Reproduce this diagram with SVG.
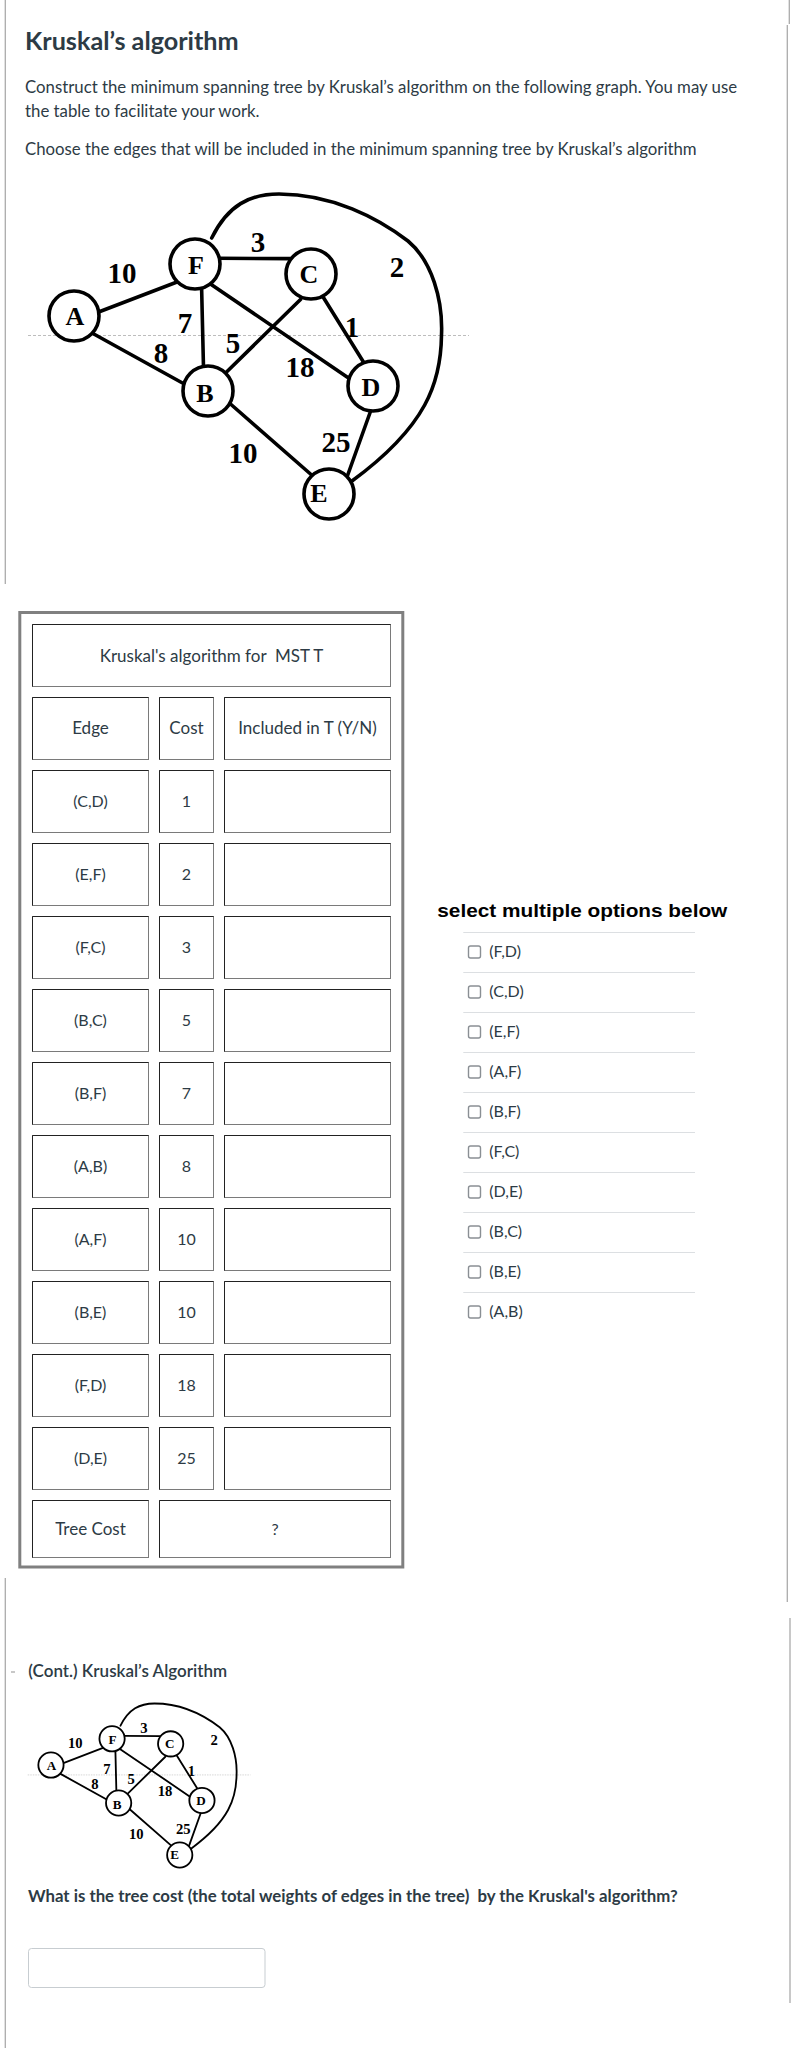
<svg xmlns="http://www.w3.org/2000/svg" xmlns:xlink="http://www.w3.org/1999/xlink" width="796" height="2048" viewBox="0 0 796 2048">
<style>
.t{font-family:Lato,"Open Sans","Liberation Sans",sans-serif;fill:#2d3b45;font-size:16px}
.p{font-size:17px}
.q{font-size:16.8px}
.c{text-anchor:middle}
.b{font-weight:bold}
.edge{stroke:#000;stroke-width:3.6;fill:none;stroke-linecap:round}
.node circle{fill:#fff;stroke:#000;stroke-width:3.6}
.nl{font-family:"Liberation Serif","Times New Roman",serif;font-weight:bold;font-size:26px;text-anchor:middle;fill:#000}
.wl{font-family:"Liberation Serif","Times New Roman",serif;font-weight:bold;font-size:29px;text-anchor:middle;fill:#000}
.cbr{fill:#fff;stroke:#7a7a7a;stroke-width:1}
.ctl{fill:none;stroke:#222;stroke-width:1}
.sep{stroke:#dcdfe2;stroke-width:1.2}
.chk{fill:#fff;stroke:#8a8f94;stroke-width:1.4}
.vb{stroke:#ababab;stroke-width:1.3}
</style>
<defs>
<g id="cE"><rect width="116" height="62" class="cbr"/><path d="M0,62V0H116" class="ctl"/></g>
<g id="cC"><rect width="54" height="62" class="cbr"/><path d="M0,62V0H54" class="ctl"/></g>
<g id="cI"><rect width="166" height="62" class="cbr"/><path d="M0,62V0H166" class="ctl"/></g>
</defs>
<rect width="796" height="2048" fill="#fff"/>
<g id="page-borders">
<line class="vb" x1="5.3" y1="0" x2="5.3" y2="584"/>
<line class="vb" x1="5.3" y1="1578" x2="5.3" y2="2048"/>
<line class="vb" x1="789.3" y1="0" x2="789.3" y2="24"/>
<line class="vb" x1="787.3" y1="25" x2="787.3" y2="1602"/>
<line class="vb" x1="790" y1="1618" x2="790" y2="2003"/>
<line class="vb" x1="11" y1="1672" x2="15" y2="1672"/>
</g>
<g id="header">
<text class="t b" x="25" y="50" style="font-size:25.2px">Kruskal’s algorithm</text>
<text class="t q" x="25" y="93">Construct the minimum spanning tree by Kruskal’s algorithm on the following graph. You may use</text>
<text class="t q" x="25" y="117">the table to facilitate your work.</text>
<text class="t q" x="25" y="155">Choose the edges that will be included in the minimum spanning tree by Kruskal’s algorithm</text>
</g>
<g id="fig1">
<line x1="28" y1="335.5" x2="469" y2="335.5" stroke="#bdbdbd" stroke-width="1.2" stroke-dasharray="3 2"/>
<g id="connectors">
<line class="edge" x1="96" y1="313" x2="177" y2="282"/>
<line class="edge" x1="92" y1="333" x2="187" y2="385.5"/>
<line class="edge" x1="201.5" y1="283" x2="203.5" y2="368"/>
<line class="edge" x1="218" y1="258.3" x2="292" y2="258.6"/>
<line class="edge" x1="209" y1="283" x2="350" y2="379"/>
<line class="edge" x1="300.5" y1="299.5" x2="224.5" y2="374"/>
<line class="edge" x1="320" y1="292" x2="365" y2="364.5"/>
<line class="edge" x1="230.5" y1="404" x2="314.5" y2="477.5"/>
<line class="edge" x1="371" y1="410" x2="347" y2="477"/>
<path class="edge" d="M211.7,238 C228,205 250,194 279,194 C332,194 378,218 408,241 C432,261 443,300 441.5,335 C441,382 427,426 352,481"/>
<text class="wl" x="122" y="283">10</text>
<text class="wl" x="258" y="252">3</text>
<text class="wl" x="397" y="277">2</text>
<text class="wl" x="185" y="333">7</text>
<text class="wl" x="352" y="337">1</text>
<text class="wl" x="161" y="363">8</text>
<text class="wl" x="233" y="353">5</text>
<text class="wl" x="300" y="377">18</text>
<text class="wl" x="336" y="452">25</text>
<text class="wl" x="243" y="463">10</text>
</g>
<g id="node-A" class="node"><circle cx="74" cy="316" r="25"/><text class="nl" x="75" y="325">A</text></g>
<g id="node-F" class="node"><circle cx="195" cy="264" r="25"/><text class="nl" x="196" y="274">F</text></g>
<g id="node-C" class="node"><circle cx="311" cy="274" r="25"/><text class="nl" x="309" y="283">C</text></g>
<g id="node-B" class="node"><circle cx="208" cy="391" r="25"/><text class="nl" x="205" y="402">B</text></g>
<g id="node-D" class="node"><circle cx="373" cy="386" r="25"/><text class="nl" x="371" y="396">D</text></g>
<g id="node-E" class="node"><circle cx="329" cy="494" r="25"/><text class="nl" x="319" y="502">E</text></g>
</g>
<g id="table">
<rect x="19.8" y="612.5" width="383" height="954.5" fill="none" stroke="#808080" stroke-width="3"/>
<rect x="32.5" y="624.5" width="358" height="62" class="cbr"/><path d="M32.5,686.5V624.5H390.5" class="ctl"/>
<text class="t c p" x="211.5" y="661.5" xml:space="preserve">Kruskal's algorithm for  MST T</text>
<use href="#cE" x="32.5" y="697.5"/><use href="#cC" x="159.5" y="697.5"/><use href="#cI" x="224.5" y="697.5"/>
<text class="t c p" x="90.5" y="734">Edge</text><text class="t c p" x="186.5" y="734">Cost</text><text class="t c p" x="307.5" y="734">Included in T (Y/N)</text>
<use href="#cE" x="32.5" y="770.5"/><use href="#cC" x="159.5" y="770.5"/><use href="#cI" x="224.5" y="770.5"/>
<text class="t c" x="90.5" y="807">(C,D)</text><text class="t c" x="186.5" y="807">1</text>
<use href="#cE" x="32.5" y="843.5"/><use href="#cC" x="159.5" y="843.5"/><use href="#cI" x="224.5" y="843.5"/>
<text class="t c" x="90.5" y="880">(E,F)</text><text class="t c" x="186.5" y="880">2</text>
<use href="#cE" x="32.5" y="916.5"/><use href="#cC" x="159.5" y="916.5"/><use href="#cI" x="224.5" y="916.5"/>
<text class="t c" x="90.5" y="953">(F,C)</text><text class="t c" x="186.5" y="953">3</text>
<use href="#cE" x="32.5" y="989.5"/><use href="#cC" x="159.5" y="989.5"/><use href="#cI" x="224.5" y="989.5"/>
<text class="t c" x="90.5" y="1026">(B,C)</text><text class="t c" x="186.5" y="1026">5</text>
<use href="#cE" x="32.5" y="1062.5"/><use href="#cC" x="159.5" y="1062.5"/><use href="#cI" x="224.5" y="1062.5"/>
<text class="t c" x="90.5" y="1099">(B,F)</text><text class="t c" x="186.5" y="1099">7</text>
<use href="#cE" x="32.5" y="1135.5"/><use href="#cC" x="159.5" y="1135.5"/><use href="#cI" x="224.5" y="1135.5"/>
<text class="t c" x="90.5" y="1172">(A,B)</text><text class="t c" x="186.5" y="1172">8</text>
<use href="#cE" x="32.5" y="1208.5"/><use href="#cC" x="159.5" y="1208.5"/><use href="#cI" x="224.5" y="1208.5"/>
<text class="t c" x="90.5" y="1245">(A,F)</text><text class="t c" x="186.5" y="1245">10</text>
<use href="#cE" x="32.5" y="1281.5"/><use href="#cC" x="159.5" y="1281.5"/><use href="#cI" x="224.5" y="1281.5"/>
<text class="t c" x="90.5" y="1318">(B,E)</text><text class="t c" x="186.5" y="1318">10</text>
<use href="#cE" x="32.5" y="1354.5"/><use href="#cC" x="159.5" y="1354.5"/><use href="#cI" x="224.5" y="1354.5"/>
<text class="t c" x="90.5" y="1391">(F,D)</text><text class="t c" x="186.5" y="1391">18</text>
<use href="#cE" x="32.5" y="1427.5"/><use href="#cC" x="159.5" y="1427.5"/><use href="#cI" x="224.5" y="1427.5"/>
<text class="t c" x="90.5" y="1464">(D,E)</text><text class="t c" x="186.5" y="1464">25</text>
<rect x="32.5" y="1500.5" width="116" height="57" class="cbr"/><path d="M32.5,1557.5V1500.5H148.5" class="ctl"/>
<rect x="159.5" y="1500.5" width="231" height="57" class="cbr"/><path d="M159.5,1557.5V1500.5H390.5" class="ctl"/>
<text class="t c p" x="90.5" y="1535">Tree Cost</text><text class="t c" x="275" y="1535">?</text>
</g>
<g id="options">
<text x="437.3" y="916.5" font-family="'Liberation Sans',Arial,sans-serif" font-weight="bold" font-size="19" textLength="290" lengthAdjust="spacingAndGlyphs" fill="#000">select multiple options below</text>
<line class="sep" x1="463.3" y1="932.5" x2="695" y2="932.5"/>
<line class="sep" x1="463.3" y1="972.5" x2="695" y2="972.5"/>
<line class="sep" x1="463.3" y1="1012.5" x2="695" y2="1012.5"/>
<line class="sep" x1="463.3" y1="1052.5" x2="695" y2="1052.5"/>
<line class="sep" x1="463.3" y1="1092.5" x2="695" y2="1092.5"/>
<line class="sep" x1="463.3" y1="1132.5" x2="695" y2="1132.5"/>
<line class="sep" x1="463.3" y1="1172.5" x2="695" y2="1172.5"/>
<line class="sep" x1="463.3" y1="1212.5" x2="695" y2="1212.5"/>
<line class="sep" x1="463.3" y1="1252.5" x2="695" y2="1252.5"/>
<line class="sep" x1="463.3" y1="1292.5" x2="695" y2="1292.5"/>
<rect class="chk" x="468.5" y="946" width="12" height="12" rx="2"/><text class="t" x="489.3" y="956.5">(F,D)</text>
<rect class="chk" x="468.5" y="986" width="12" height="12" rx="2"/><text class="t" x="489.3" y="996.5">(C,D)</text>
<rect class="chk" x="468.5" y="1026" width="12" height="12" rx="2"/><text class="t" x="489.3" y="1036.5">(E,F)</text>
<rect class="chk" x="468.5" y="1066" width="12" height="12" rx="2"/><text class="t" x="489.3" y="1076.5">(A,F)</text>
<rect class="chk" x="468.5" y="1106" width="12" height="12" rx="2"/><text class="t" x="489.3" y="1116.5">(B,F)</text>
<rect class="chk" x="468.5" y="1146" width="12" height="12" rx="2"/><text class="t" x="489.3" y="1156.5">(F,C)</text>
<rect class="chk" x="468.5" y="1186" width="12" height="12" rx="2"/><text class="t" x="489.3" y="1196.5">(D,E)</text>
<rect class="chk" x="468.5" y="1226" width="12" height="12" rx="2"/><text class="t" x="489.3" y="1236.5">(B,C)</text>
<rect class="chk" x="468.5" y="1266" width="12" height="12" rx="2"/><text class="t" x="489.3" y="1276.5">(B,E)</text>
<rect class="chk" x="468.5" y="1306" width="12" height="12" rx="2"/><text class="t" x="489.3" y="1316.5">(A,B)</text>
</g>
<g id="part2">
<text class="t p" x="28.3" y="1677" style="font-weight:600">(Cont.) Kruskal’s Algorithm</text>
<use href="#fig1" transform="translate(13.6,1605.5) scale(0.505)"/>
<text class="t q b" x="28" y="1902" xml:space="preserve">What is the tree cost (the total weights of edges in the tree)  by the Kruskal's algorithm?</text>
<rect x="28.5" y="1948.5" width="236.5" height="39" rx="3" fill="#fff" stroke="#c7cdd1" stroke-width="1"/>
</g>
</svg>
